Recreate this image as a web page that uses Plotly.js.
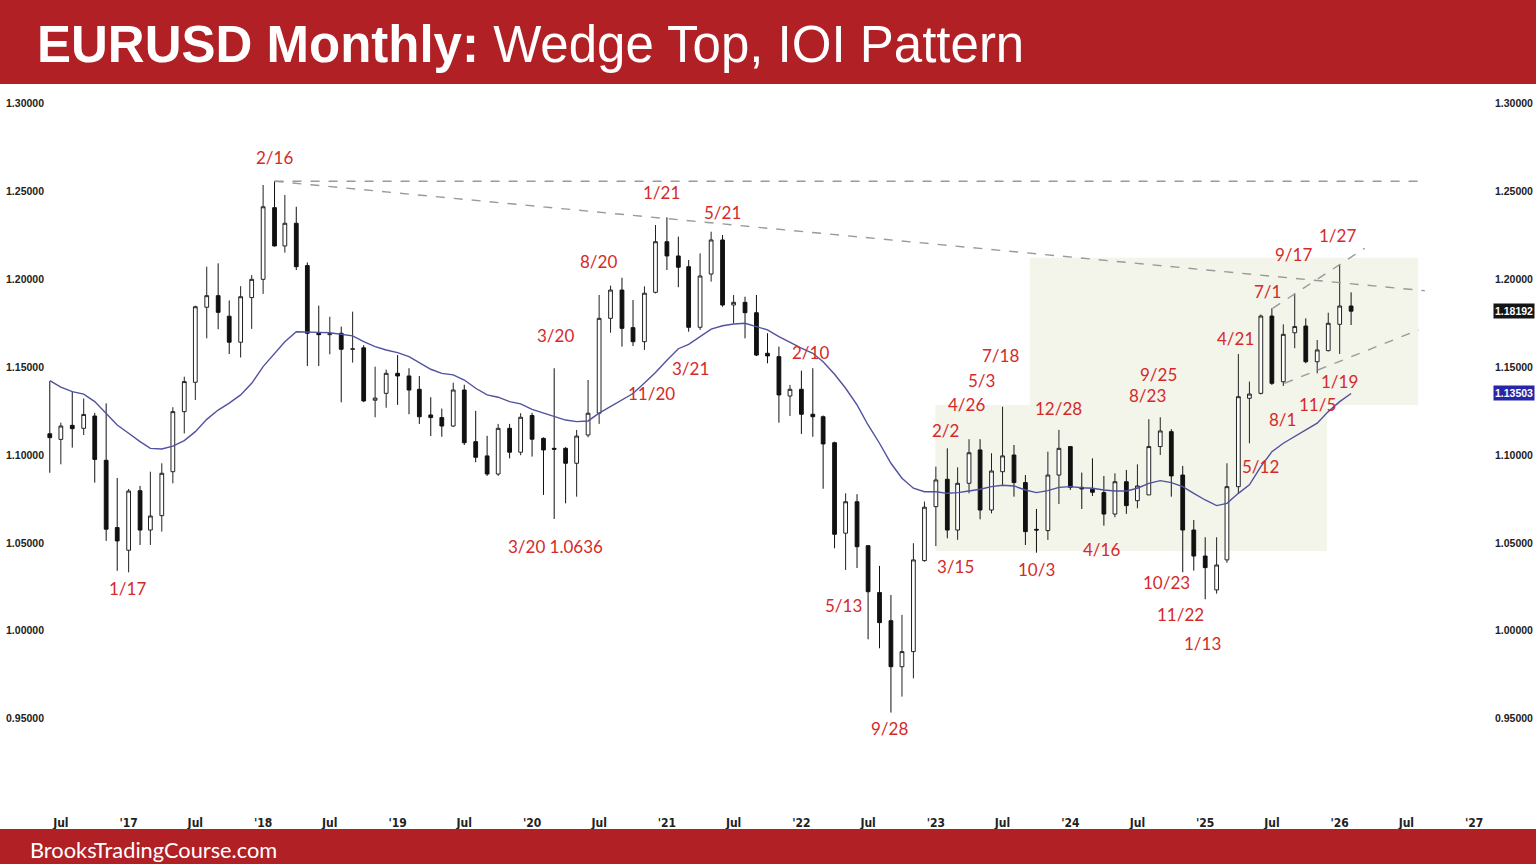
<!DOCTYPE html>
<html>
<head>
<meta charset="utf-8">
<script src="https://cdn.plot.ly/plotly-3.0.1.min.js"></script>
<style>html,body{margin:0;padding:0;background:#fff;}#chart{width:1536px;height:864px;}</style>
</head>
<body>
<div id="chart"></div>
<script>
// ---------------- DATA ----------------
const months = [
 '2016-06','2016-07','2016-08','2016-09','2016-10','2016-11','2016-12',
 '2017-01','2017-02','2017-03','2017-04','2017-05','2017-06','2017-07','2017-08','2017-09','2017-10','2017-11','2017-12',
 '2018-01','2018-02','2018-03','2018-04','2018-05','2018-06','2018-07','2018-08','2018-09','2018-10','2018-11','2018-12',
 '2019-01','2019-02','2019-03','2019-04','2019-05','2019-06','2019-07','2019-08','2019-09','2019-10','2019-11','2019-12',
 '2020-01','2020-02','2020-03','2020-04','2020-05','2020-06','2020-07','2020-08','2020-09','2020-10','2020-11','2020-12',
 '2021-01','2021-02','2021-03','2021-04','2021-05','2021-06','2021-07','2021-08','2021-09','2021-10','2021-11','2021-12',
 '2022-01','2022-02','2022-03','2022-04','2022-05','2022-06','2022-07','2022-08','2022-09','2022-10','2022-11','2022-12',
 '2023-01','2023-02','2023-03','2023-04','2023-05','2023-06','2023-07','2023-08','2023-09','2023-10','2023-11','2023-12',
 '2024-01','2024-02','2024-03','2024-04','2024-05','2024-06','2024-07','2024-08','2024-09','2024-10','2024-11','2024-12',
 '2025-01','2025-02','2025-03','2025-04','2025-05','2025-06','2025-07','2025-08','2025-09','2025-10','2025-11','2025-12',
 '2026-01','2026-02'
];
const openPx = [
 1.1121,1.1089,1.1169,1.1152,1.1222,1.0970,1.0587,
 1.0458,1.0797,1.0573,1.0655,1.0905,1.1247,1.1414,1.1841,1.1907,1.1790,1.1642,1.1896,
 1.2000,1.2408,1.2190,1.2319,1.2078,1.1693,1.1685,1.1693,1.1602,1.1610,1.1312,1.1351,
 1.1465,1.1450,1.1374,1.1228,1.1213,1.1165,1.1370,1.1076,1.0995,1.0892,1.1152,1.1016,
 1.1225,1.1095,1.1038,1.1038,1.0953,1.1114,1.1238,1.1778,1.1939,1.1725,1.1645,1.1926,
 1.2214,1.2133,1.2072,1.1727,1.2030,1.2224,1.1854,1.1869,1.1810,1.1579,1.1560,1.1336,
 1.1374,1.1232,1.1218,1.1070,1.0555,1.0734,1.0484,1.0217,1.0057,0.9795,0.9881,1.0399,
 1.0706,1.0862,1.0573,1.0839,1.1029,1.0687,1.0905,1.1000,1.0843,1.0577,1.0570,1.0886,
 1.1048,1.0816,1.0805,1.0786,1.0664,1.0848,1.0740,1.0773,1.1048,1.1133,1.0886,1.0573,
 1.0425,1.0232,1.0403,1.0820,1.1323,1.1351,1.1791,1.1417,1.1696,1.1734,1.1531,1.1594,
 1.1744,1.1848
];
const highPx = [
 1.1420,1.1184,1.1364,1.1322,1.1240,1.1294,1.0869,
 1.0807,1.0824,1.0905,1.0953,1.1272,1.1446,1.1850,1.2072,1.2091,1.1880,1.1961,1.2024,
 1.2537,1.2560,1.2480,1.2413,1.2096,1.1850,1.1787,1.1731,1.1816,1.1625,1.1503,1.1486,
 1.1569,1.1494,1.1450,1.1329,1.1264,1.1412,1.1400,1.1251,1.1109,1.1177,1.1177,1.1238,
 1.1240,1.1100,1.1494,1.1045,1.1143,1.1427,1.1911,1.1964,1.2009,1.1882,1.1960,1.2309,
 1.2353,1.2243,1.2110,1.2148,1.2271,1.2252,1.1911,1.1901,1.1911,1.1693,1.1617,1.1399,
 1.1480,1.1494,1.1225,1.1076,1.0782,1.0777,1.0486,1.0369,1.0203,1.0090,1.0498,1.0735,
 1.0934,1.1038,1.0930,1.1090,1.1090,1.1010,1.1275,1.1057,1.0886,1.0693,1.1019,1.1143,
 1.1048,1.0900,1.0981,1.0881,1.0896,1.0915,1.0947,1.1204,1.1215,1.1147,1.0938,1.0630,
 1.0532,1.0532,1.0953,1.1575,1.1418,1.1800,1.1835,1.1744,1.1921,1.1778,1.1655,1.1810,
 1.2082,1.1926
];
const lowPx = [
 1.0899,1.0947,1.1042,1.1114,1.0843,1.0511,1.0341,
 1.0332,1.0488,1.0488,1.0564,1.0839,1.1123,1.1313,1.1664,1.1716,1.1575,1.1555,1.1718,
 1.1917,1.2187,1.2152,1.2053,1.1507,1.1507,1.1573,1.1300,1.1526,1.1301,1.1215,1.1269,
 1.1285,1.1232,1.1177,1.1108,1.1104,1.1160,1.1057,1.0959,1.0881,1.0881,1.0981,1.0999,
 1.0991,1.0773,1.0636,1.0725,1.0763,1.1101,1.1177,1.1696,1.1617,1.1620,1.1598,1.1920,
 1.2053,1.1955,1.1702,1.1712,1.1987,1.1844,1.1750,1.1664,1.1563,1.1522,1.1184,1.1222,
 1.1120,1.1104,1.0808,1.0469,1.0346,1.0357,0.9951,0.9900,0.9534,0.9625,0.9729,1.0393,
 1.0482,1.0526,1.0517,1.0782,1.0634,1.0668,1.0830,1.0763,1.0488,1.0444,1.0517,1.0721,
 1.0801,1.0693,1.0767,1.0598,1.0646,1.0665,1.0697,1.0773,1.1000,1.0763,1.0333,1.0342,
 1.0179,1.0211,1.0387,1.0782,1.1067,1.1345,1.1399,1.1393,1.1608,1.1522,1.1465,1.1590,
 1.1575,1.1740
];
const closePx = [
 1.1099,1.1165,1.1150,1.1231,1.0975,1.0578,1.0511,
 1.0795,1.0573,1.0653,1.0896,1.1247,1.1418,1.1844,1.1907,1.1812,1.1642,1.1901,1.2000,
 1.2413,1.2190,1.2319,1.2072,1.1693,1.1685,1.1690,1.1602,1.1604,1.1308,1.1324,1.1465,
 1.1450,1.1370,1.1218,1.1213,1.1165,1.1370,1.1070,1.0987,1.0892,1.1152,1.1016,1.1215,
 1.1090,1.1029,1.1033,1.0953,1.1108,1.1238,1.1778,1.1939,1.1721,1.1645,1.1921,1.2214,
 1.2133,1.2069,1.1727,1.2019,1.2224,1.1854,1.1869,1.1810,1.1569,1.1564,1.1342,1.1374,
 1.1232,1.1218,1.1063,1.0549,1.0734,1.0478,1.0222,1.0046,0.9795,0.9881,1.0403,1.0703,
 1.0858,1.0573,1.0839,1.1013,1.0687,1.0909,1.0995,1.0843,1.0564,1.0573,1.0886,1.1038,
 1.0816,1.0807,1.0788,1.0664,1.0848,1.0712,1.0824,1.1048,1.1137,1.0881,1.0573,1.0425,
 1.0359,1.0374,1.0820,1.1332,1.1347,1.1791,1.1408,1.1687,1.1731,1.1531,1.1598,1.1750,
 1.1848,1.1819
];
// 20-bar moving average as drawn on the picture
const maLine = [
 1.1423,1.1386,1.1361,1.1347,1.1304,1.1238,1.1171,
 1.1124,1.1076,1.1038,1.1034,1.1051,1.1082,1.1133,1.1203,1.1256,1.1295,1.1342,1.1408,
 1.1503,1.1579,1.1645,1.1702,1.1702,1.1698,1.1696,1.1689,1.1678,1.1645,1.1617,1.1598,
 1.1583,1.1560,1.1526,1.1488,1.1465,1.1456,1.1427,1.1380,1.1342,1.1329,1.1304,1.1291,
 1.1260,1.1238,1.1218,1.1199,1.1190,1.1194,1.1238,1.1275,1.1313,1.1350,1.1410,1.1470,
 1.1540,1.1605,1.1630,1.1674,1.1717,1.1736,1.1746,1.1750,1.1731,1.1712,1.1674,1.1640,
 1.1608,1.1579,1.1531,1.1460,1.1380,1.1285,1.1171,1.1067,1.0953,1.0868,1.0811,1.0791,
 1.0791,1.0782,1.0786,1.0795,1.0805,1.0820,1.0828,1.0824,1.0801,1.0786,1.0797,1.0816,
 1.0820,1.0814,1.0811,1.0801,1.0795,1.0795,1.0811,1.0839,1.0854,1.0843,1.0820,1.0782,
 1.0744,1.0712,1.0725,1.0782,1.0830,1.0934,1.1019,1.1067,1.1104,1.1143,1.1181,1.1247,
 1.1304,1.1350
];
const lastPrice = 1.18192;
const lastMA = 1.13503;
const yTickVals = [0.95,1.00,1.05,1.10,1.15,1.20,1.25,1.30];
const xTickVals = ['2016-07-01','2017-01-01','2017-07-01','2018-01-01','2018-07-01','2019-01-01','2019-07-01','2020-01-01','2020-07-01','2021-01-01','2021-07-01','2022-01-01','2022-07-01','2023-01-01','2023-07-01','2024-01-01','2024-07-01','2025-01-01','2025-07-01','2026-01-01','2026-07-01','2027-01-01'];
const xTickText = ['Jul',"'17",'Jul',"'18",'Jul',"'19",'Jul',"'20",'Jul',"'21",'Jul',"'22",'Jul',"'23",'Jul',"'24",'Jul',"'25",'Jul',"'26",'Jul',"'27"];
// date labels: [text, date, price]
const dateLabels = [
 ['2/16','2018-02-01',1.2696],['1/17','2016-12-29',1.0238],['1/21','2020-12-17',1.2497],
 ['5/21','2021-06-01',1.2383],['8/20','2020-06-28',1.2099],['3/20','2020-03-05',1.1683],
 ['3/21','2021-03-06',1.1490],['11/20','2020-11-19',1.1353],['2/10','2022-01-27',1.1581],
 ['3/20 1.0636','2020-03-05',1.0482],['5/13','2022-04-25',1.0141],['9/28','2022-08-29',0.9446],
 ['3/15','2023-02-24',1.0363],['2/2','2023-01-26',1.1137],['4/26','2023-03-25',1.1285],
 ['5/3','2023-05-04',1.1427],['7/18','2023-06-25',1.1564],['10/3','2023-10-01',1.0351],
 ['12/28','2023-11-30',1.1262],['4/16','2024-03-25',1.0465],['8/23','2024-07-29',1.1336],
 ['9/25','2024-08-28',1.1461],['10/23','2024-09-19',1.0272],['11/22','2024-10-27',1.0095],
 ['1/13','2024-12-26',0.9930],['5/12','2025-05-31',1.0932],['4/21','2025-03-24',1.1666],
 ['7/1','2025-06-19',1.1928],['8/1','2025-07-29',1.1200],['9/17','2025-08-29',1.2139],
 ['1/27','2025-12-27',1.2252],['11/5','2025-11-03',1.1285],['1/19','2026-01-01',1.1421]
];

// ---------------- LAYOUT HELPERS ----------------
const W = 1536, H = 864, L = 45, R = 46, T = 88, B = 59;
const pw = W - L - R, ph = H - T - B;
const px = v => (v - L) / pw;
const py = v => 1 - (v - T) / ph;
const RED = '#b12024';
const LABEL_RED = '#d42a2a';
const yRange = [0.9008, 1.3089];
const xRange = ['2016-05-19', '2027-02-13'];
const dates = months.map(m => m + '-01');

const traces = [
 {
  type: 'candlestick', x: dates, open: openPx, high: highPx, low: lowPx, close: closePx,
  increasing: {line: {color: '#222', width: 1}, fillcolor: '#ffffff'},
  decreasing: {line: {color: '#111', width: 1}, fillcolor: '#111111'},
  whiskerwidth: 0, hoverinfo: 'skip', showlegend: false
 },
 {
  type: 'scatter', mode: 'lines', x: dates, y: maLine,
  line: {color: '#50529e', width: 1.4}, hoverinfo: 'skip', showlegend: false
 },
 {
  type: 'scatter', mode: 'lines', x: dates, y: closePx, yaxis: 'y2',
  line: {color: 'rgba(0,0,0,0)', width: 0}, hoverinfo: 'skip', showlegend: false
 }
];

const dash = {color: '#9a9a9a', width: 1.4, dash: 'dash'};
const shapes = [
 // banners
 {type: 'rect', xref: 'paper', yref: 'paper', x0: px(0), x1: px(W), y0: py(84), y1: py(0), fillcolor: RED, line: {width: 0}, layer: 'above'},
 {type: 'rect', xref: 'paper', yref: 'paper', x0: px(0), x1: px(W), y0: py(H), y1: py(829), fillcolor: RED, line: {width: 0}, layer: 'above'},
 // shaded trading ranges
 {type: 'rect', xref: 'x', yref: 'y', x0: '2022-12-31', x1: '2025-11-28', y0: 1.0454, y1: 1.1285, fillcolor: '#f3f4ea', line: {width: 0}, layer: 'below'},
 {type: 'rect', xref: 'x', yref: 'y', x0: '2023-09-13', x1: '2026-08-02', y0: 1.1285, y1: 1.2123, fillcolor: '#f3f4ea', line: {width: 0}, layer: 'below'},
 // trend lines
 {type: 'line', xref: 'x', yref: 'y', x0: '2018-02-01', x1: '2026-08-03', y0: 1.2558, y1: 1.2558, line: dash},
 {type: 'line', xref: 'x', yref: 'y', x0: '2018-02-01', x1: '2026-08-20', y0: 1.2558, y1: 1.1935, line: dash},
 {type: 'line', xref: 'x', yref: 'y', x0: '2025-07-03', x1: '2026-03-10', y0: 1.1835, y1: 1.2177, line: dash},
 {type: 'line', xref: 'x', yref: 'y', x0: '2025-08-04', x1: '2026-08-03', y0: 1.1408, y1: 1.1712, line: dash}
];

const annotations = dateLabels.map(d => ({
 text: d[0], x: d[1], y: d[2], xref: 'x', yref: 'y', showarrow: false,
 xanchor: 'center', yanchor: 'middle',
 font: {family: 'Lato, "Noto Sans", sans-serif', size: 17, color: LABEL_RED}
}));
annotations.push(
 {text: '<b>EURUSD Monthly:</b> Wedge Top, IOI Pattern', xref: 'paper', yref: 'paper', x: px(35), y: py(45),
  xanchor: 'left', yanchor: 'middle', showarrow: false,
  font: {family: '"Liberation Sans", Arial, sans-serif', size: 51, color: '#ffffff'}},
 {text: 'BrooksTradingCourse.com', xref: 'paper', yref: 'paper', x: px(28), y: py(849),
  xanchor: 'left', yanchor: 'middle', showarrow: false,
  font: {family: 'Lato, "Open Sans", sans-serif', size: 21.8, color: '#ffffff'}},
 {text: '<b>' + lastPrice.toFixed(5) + '</b>', xref: 'paper', yref: 'y', x: px(1493), y: lastPrice,
  xanchor: 'left', yanchor: 'middle', showarrow: false, bgcolor: '#151515', borderpad: 1,
  font: {family: '"Liberation Sans", Arial, sans-serif', size: 10.5, color: '#ffffff'}},
 {text: '<b>' + lastMA.toFixed(5) + '</b>', xref: 'paper', yref: 'y', x: px(1493), y: lastMA,
  xanchor: 'left', yanchor: 'middle', showarrow: false, bgcolor: '#2626a6', borderpad: 1,
  font: {family: '"Liberation Sans", Arial, sans-serif', size: 10.5, color: '#ffffff'}}
);

const yTickFont = {family: '"Liberation Sans", Arial, sans-serif', size: 10.5, color: '#222', weight: 'bold'};
const layout = {
 width: W, height: H,
 margin: {l: L, r: R, t: T, b: B, pad: 0},
 paper_bgcolor: '#ffffff', plot_bgcolor: '#ffffff',
 showlegend: false, hovermode: false, dragmode: false,
 boxgap: 0.48,
 xaxis: {
  type: 'date', range: xRange, showgrid: false, zeroline: false, showline: false,
  tickmode: 'array', tickvals: xTickVals, ticktext: xTickText, ticks: '',
  ticklabelstandoff: 9,
  tickfont: {family: '"Liberation Sans Narrow", "DejaVu Sans Condensed", Arial, sans-serif', size: 12, color: '#222', weight: 'bold'},
  rangeslider: {visible: false}, fixedrange: true
 },
 yaxis: {
  range: yRange, showgrid: false, zeroline: false, showline: false,
  tickmode: 'array', tickvals: yTickVals, tickformat: '.5f', ticks: '',
  tickfont: yTickFont, fixedrange: true
 },
 yaxis2: {
  range: yRange, overlaying: 'y', side: 'right', showgrid: false, zeroline: false, showline: false,
  tickmode: 'array', tickvals: yTickVals, tickformat: '.5f', ticks: '',
  tickfont: yTickFont, fixedrange: true, ticklabelstandoff: 4
 },
 shapes: shapes,
 annotations: annotations
};

Plotly.newPlot('chart', traces, layout, {staticPlot: true, displayModeBar: false});
</script>
</body>
</html>
